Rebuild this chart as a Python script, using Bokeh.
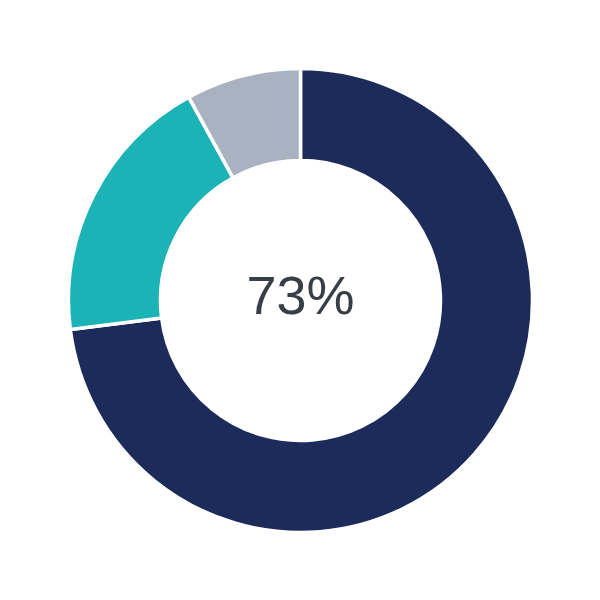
import math
from bokeh.plotting import figure
from bokeh.models import ColumnDataSource
from bokeh.core.properties import value
from bokeh.embed import file_html
from bokeh.resources import INLINE

categories = ["Primary", "Secondary", "Other"]
values = [73, 19, 8]
colors = ["#1c2b5a", "#1bb3b5", "#a8b2c1"]
center_label = "73%"

total = sum(values)
starts, ends = [], []
cum = 0.0
for v in values:
    starts.append(math.pi / 2 - 2 * math.pi * cum / total)
    cum += v
    ends.append(math.pi / 2 - 2 * math.pi * cum / total)

src = ColumnDataSource(dict(cat=categories, val=values, color=colors,
                            start=starts, end=ends))

p = figure(width=584, height=584, x_range=(-300, 284), y_range=(-284, 300),
           output_backend="svg", toolbar_location=None, min_border=0)
p.axis.visible = False
p.grid.visible = False
p.outline_line_color = None
p.background_fill_color = "white"

p.annular_wedge(x=0, y=0, inner_radius=140, outer_radius=232,
                start_angle="start", end_angle="end", direction="clock",
                fill_color="color", line_color="white", line_width=3.5,
                source=src)

p.text(x=[0], y=[0], text=[center_label], text_align="center",
       text_baseline="middle", text_font=value("Liberation Sans"),
       text_font_size="54px", text_color="#383e48", y_offset=-6)

open("out.html", "w").write(file_html(p, INLINE))
